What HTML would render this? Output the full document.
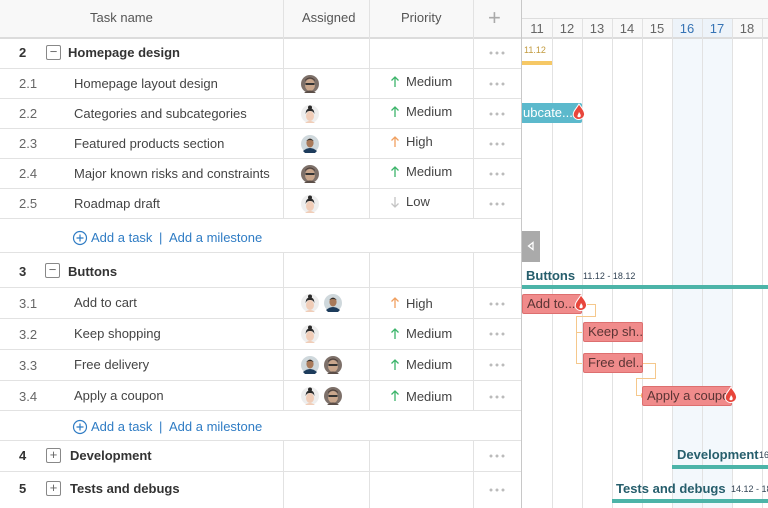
<!DOCTYPE html>
<html><head><meta charset="utf-8">
<style>
*{margin:0;padding:0;box-sizing:border-box}
body{width:768px;height:508px;overflow:hidden;background:#fff;font-family:"Liberation Sans",Arial,sans-serif;position:relative;color:#444}
.a{position:absolute;white-space:nowrap}
.hl{position:absolute;height:1px;background:#e2e2e2}
.vl{position:absolute;width:1px;background:#e2e2e2}
.t{font-size:13px;color:#444;line-height:16px}
.num{font-size:13px;color:#666;line-height:16px}
.b{font-weight:bold;color:#333}
.pr{font-size:13px;color:#444;line-height:16px}
.box{position:absolute;width:15px;height:15px;border:1px solid #888;border-radius:2px;color:#666;font-size:13px;line-height:12px;text-align:center}
.bar{position:absolute;height:20px;border-radius:2px;font-size:13px;line-height:18px;padding-left:4px;white-space:nowrap;overflow:hidden}
.red{background:#f08b8b;border:1px solid #dd6f6f;color:#5a3434}
.lnk{color:#2f7cc4;font-size:13px;line-height:16px}
.day{position:absolute;top:19px;height:18px;width:30px;text-align:center;font-size:13px;line-height:19px;color:#666}
</style></head><body>

<svg width="0" height="0" style="position:absolute">
<defs>
<g id="dots"><circle cx="2" cy="2" r="1.5" fill="#bbb"/><circle cx="8" cy="2" r="1.5" fill="#bbb"/><circle cx="14" cy="2" r="1.5" fill="#bbb"/></g>
<g id="up"><path d="M5 12V2M1.5 5.5L5 2L8.5 5.5" fill="none" stroke-width="1.3"/></g>
<g id="dn"><path d="M5 1V11M1.5 7.5L5 11L8.5 7.5" fill="none" stroke-width="1.3"/></g>
<g id="avA"><circle cx="9" cy="9" r="9" fill="#7d7069"/><ellipse cx="9" cy="10" rx="5" ry="6" fill="#c9a68c"/><path d="M4 6 Q9 1 14 6 L14 5 Q9 0 4 5Z" fill="#4a3a33"/><rect x="4.5" y="8" width="9" height="2" fill="#333"/><path d="M3 18 Q9 13 15 18Z" fill="#5b4e48"/></g>
<g id="avB"><circle cx="9" cy="9" r="9" fill="#eeeeee"/><ellipse cx="9" cy="11" rx="4" ry="5" fill="#f0cdb8"/><path d="M4.5 9 Q5 3 9 3.5 Q13 3 13.5 9 Q12 5.5 9 6 Q6 5.5 4.5 9Z" fill="#2a2a2a"/><circle cx="9" cy="2.5" r="2" fill="#2a2a2a"/><path d="M4 18 Q9 14 14 18Z" fill="#f0cdb8"/></g>
<g id="avC"><circle cx="9" cy="9" r="9" fill="#cfd8dc"/><ellipse cx="9" cy="8" rx="3.6" ry="4.5" fill="#a97a5a"/><path d="M5.2 6 Q9 1.5 12.8 6 Q9 4 5.2 6Z" fill="#2b2b2b"/><path d="M2 16 Q9 10 16 16 L14 18 L4 18Z" fill="#1d3c5c"/></g>
<g id="fire"><path d="M7 1 C10 5 13 8.5 12.5 12 A5.8 5.5 0 0 1 1.2 12.5 C0.8 8.5 4 6 7 1Z" fill="#e8463c" stroke="#fff" stroke-width="1"/><path d="M7 9 C8.5 11 9 12 8.6 13.5 A2 2 0 0 1 5.4 13.5 C5.4 12 6.4 11 7 9Z" fill="#fff"/></g>
</defs></svg>

<!-- header backgrounds -->
<div class="a" style="left:0;top:0;width:768px;height:38px;background:#f8f8f8"></div>
<div class="a" style="left:672px;top:19px;width:60px;height:18px;background:#edf3f9"></div>
<div class="a" style="left:672px;top:39px;width:60px;height:469px;background:#f3f8fc"></div>
<div class="hl" style="left:522px;top:18px;width:246px;background:#ddd"></div>
<div class="hl" style="left:0;top:37px;width:768px;height:2px;background:#dcdcdc"></div>

<!-- header text -->
<div class="a t" style="left:90px;top:10px;color:#555">Task name</div>
<div class="a t" style="left:302px;top:10px;color:#555">Assigned</div>
<div class="a t" style="left:401px;top:10px;color:#555">Priority</div>
<div class="a" style="left:488px;top:6px;font-size:22px;color:#aaa;line-height:24px;font-weight:300">+</div>

<!-- day header -->
<div class="day" style="left:522px">11</div>
<div class="day" style="left:552px">12</div>
<div class="day" style="left:582px">13</div>
<div class="day" style="left:612px">14</div>
<div class="day" style="left:642px">15</div>
<div class="day" style="left:672px;color:#3573b5">16</div>
<div class="day" style="left:702px;color:#3573b5">17</div>
<div class="day" style="left:732px">18</div>

<!-- timeline vertical grid -->
<div class="vl" style="left:552px;top:19px;height:489px"></div>
<div class="vl" style="left:582px;top:19px;height:489px"></div>
<div class="vl" style="left:612px;top:19px;height:489px"></div>
<div class="vl" style="left:642px;top:19px;height:489px"></div>
<div class="vl" style="left:672px;top:19px;height:489px"></div>
<div class="vl" style="left:702px;top:19px;height:489px"></div>
<div class="vl" style="left:732px;top:19px;height:489px"></div>
<div class="vl" style="left:762px;top:19px;height:489px"></div>

<!-- left grid horizontal lines -->
<div class="hl" style="left:0;top:68px;width:521px"></div>
<div class="hl" style="left:0;top:98px;width:521px"></div>
<div class="hl" style="left:0;top:128px;width:521px"></div>
<div class="hl" style="left:0;top:158px;width:521px"></div>
<div class="hl" style="left:0;top:188px;width:521px"></div>
<div class="hl" style="left:0;top:218px;width:521px"></div>
<div class="hl" style="left:0;top:252px;width:521px"></div>
<div class="hl" style="left:0;top:287px;width:521px"></div>
<div class="hl" style="left:0;top:318px;width:521px"></div>
<div class="hl" style="left:0;top:349px;width:521px"></div>
<div class="hl" style="left:0;top:380px;width:521px"></div>
<div class="hl" style="left:0;top:410px;width:521px"></div>
<div class="hl" style="left:0;top:440px;width:521px"></div>
<div class="hl" style="left:0;top:471px;width:521px"></div>

<!-- left grid vertical lines (gaps in add rows) -->
<div class="vl" style="left:283px;top:0;height:218px"></div>
<div class="vl" style="left:369px;top:0;height:218px"></div>
<div class="vl" style="left:473px;top:0;height:218px"></div>
<div class="vl" style="left:283px;top:252px;height:158px"></div>
<div class="vl" style="left:369px;top:252px;height:158px"></div>
<div class="vl" style="left:473px;top:252px;height:158px"></div>
<div class="vl" style="left:283px;top:440px;height:68px"></div>
<div class="vl" style="left:369px;top:440px;height:68px"></div>
<div class="vl" style="left:473px;top:440px;height:68px"></div>
<div class="vl" style="left:521px;top:0;height:508px;background:#c8c8c8"></div>

<!-- row: 2 Homepage design -->
<div class="a num b" style="left:19px;top:45px">2</div>
<div class="box" style="left:46px;top:45px">−</div>
<div class="a t b" style="left:68px;top:45px">Homepage design</div>
<svg class="a" style="left:489px;top:51px" width="16" height="4"><use href="#dots"/></svg>

<!-- 2.1 -->
<div class="a num" style="left:19px;top:76px">2.1</div>
<div class="a t" style="left:74px;top:76px">Homepage layout design</div>
<svg class="a" style="left:390px;top:75px" width="10" height="13" stroke="#3bb46a"><use href="#up"/></svg>
<div class="a pr" style="left:406px;top:74px">Medium</div>
<svg class="a" style="left:489px;top:82px" width="16" height="4"><use href="#dots"/></svg>
<!-- 2.2 -->
<div class="a num" style="left:19px;top:106px">2.2</div>
<div class="a t" style="left:74px;top:106px">Categories and subcategories</div>
<svg class="a" style="left:390px;top:105px" width="10" height="13" stroke="#3bb46a"><use href="#up"/></svg>
<div class="a pr" style="left:406px;top:104px">Medium</div>
<svg class="a" style="left:489px;top:112px" width="16" height="4"><use href="#dots"/></svg>
<!-- 2.3 -->
<div class="a num" style="left:19px;top:136px">2.3</div>
<div class="a t" style="left:74px;top:136px">Featured products section</div>
<svg class="a" style="left:390px;top:135px" width="10" height="13" stroke="#f0a060"><use href="#up"/></svg>
<div class="a pr" style="left:406px;top:134px">High</div>
<svg class="a" style="left:489px;top:142px" width="16" height="4"><use href="#dots"/></svg>
<!-- 2.4 -->
<div class="a num" style="left:19px;top:166px">2.4</div>
<div class="a t" style="left:74px;top:166px">Major known risks and constraints</div>
<svg class="a" style="left:390px;top:165px" width="10" height="13" stroke="#3bb46a"><use href="#up"/></svg>
<div class="a pr" style="left:406px;top:164px">Medium</div>
<svg class="a" style="left:489px;top:172px" width="16" height="4"><use href="#dots"/></svg>
<!-- 2.5 -->
<div class="a num" style="left:19px;top:196px">2.5</div>
<div class="a t" style="left:74px;top:196px">Roadmap draft</div>
<svg class="a" style="left:390px;top:196px" width="10" height="13" stroke="#c4c4c4"><use href="#dn"/></svg>
<div class="a pr" style="left:406px;top:194px">Low</div>
<svg class="a" style="left:489px;top:202px" width="16" height="4"><use href="#dots"/></svg>

<!-- add row 1 -->
<svg class="a" style="left:72px;top:230px" width="16" height="16"><circle cx="8" cy="8" r="6.5" fill="none" stroke="#2f7cc4" stroke-width="1.2"/><path d="M8 4.5v7M4.5 8h7" stroke="#2f7cc4" stroke-width="1.2"/></svg>
<div class="a lnk" style="left:91px;top:230px">Add a task</div>
<div class="a lnk" style="left:159px;top:230px">|</div>
<div class="a lnk" style="left:169px;top:230px">Add a milestone</div>

<!-- row: 3 Buttons -->
<div class="a num b" style="left:19px;top:264px">3</div>
<div class="box" style="left:45px;top:263px">−</div>
<div class="a t b" style="left:68px;top:264px">Buttons</div>

<!-- 3.1 -->
<div class="a num" style="left:19px;top:296px">3.1</div>
<div class="a t" style="left:74px;top:295px">Add to cart</div>
<svg class="a" style="left:390px;top:296px" width="10" height="13" stroke="#f0a060"><use href="#up"/></svg>
<div class="a pr" style="left:406px;top:296px">High</div>
<svg class="a" style="left:489px;top:302px" width="16" height="4"><use href="#dots"/></svg>
<!-- 3.2 -->
<div class="a num" style="left:19px;top:327px">3.2</div>
<div class="a t" style="left:74px;top:326px">Keep shopping</div>
<svg class="a" style="left:390px;top:327px" width="10" height="13" stroke="#3bb46a"><use href="#up"/></svg>
<div class="a pr" style="left:406px;top:326px">Medium</div>
<svg class="a" style="left:489px;top:332px" width="16" height="4"><use href="#dots"/></svg>
<!-- 3.3 -->
<div class="a num" style="left:19px;top:358px">3.3</div>
<div class="a t" style="left:74px;top:357px">Free delivery</div>
<svg class="a" style="left:390px;top:358px" width="10" height="13" stroke="#3bb46a"><use href="#up"/></svg>
<div class="a pr" style="left:406px;top:357px">Medium</div>
<svg class="a" style="left:489px;top:363px" width="16" height="4"><use href="#dots"/></svg>
<!-- 3.4 -->
<div class="a num" style="left:19px;top:389px">3.4</div>
<div class="a t" style="left:74px;top:388px">Apply a coupon</div>
<svg class="a" style="left:390px;top:389px" width="10" height="13" stroke="#3bb46a"><use href="#up"/></svg>
<div class="a pr" style="left:406px;top:389px">Medium</div>
<svg class="a" style="left:489px;top:395px" width="16" height="4"><use href="#dots"/></svg>

<!-- add row 2 -->
<svg class="a" style="left:72px;top:419px" width="16" height="16"><circle cx="8" cy="8" r="6.5" fill="none" stroke="#2f7cc4" stroke-width="1.2"/><path d="M8 4.5v7M4.5 8h7" stroke="#2f7cc4" stroke-width="1.2"/></svg>
<div class="a lnk" style="left:91px;top:419px">Add a task</div>
<div class="a lnk" style="left:159px;top:419px">|</div>
<div class="a lnk" style="left:169px;top:419px">Add a milestone</div>

<!-- 4 Development -->
<div class="a num b" style="left:19px;top:448px">4</div>
<div class="box" style="left:46px;top:448px">+</div>
<div class="a t b" style="left:70px;top:448px">Development</div>
<svg class="a" style="left:489px;top:454px" width="16" height="4"><use href="#dots"/></svg>
<!-- 5 Tests -->
<div class="a num b" style="left:19px;top:481px">5</div>
<div class="box" style="left:46px;top:481px">+</div>
<div class="a t b" style="left:70px;top:481px">Tests and debugs</div>
<svg class="a" style="left:489px;top:488px" width="16" height="4"><use href="#dots"/></svg>

<!-- avatars -->
<svg class="a" style="left:301px;top:75px" width="18" height="18"><use href="#avA"/></svg>
<svg class="a" style="left:301px;top:105px" width="18" height="18"><use href="#avB"/></svg>
<svg class="a" style="left:301px;top:135px" width="18" height="18"><use href="#avC"/></svg>
<svg class="a" style="left:301px;top:165px" width="18" height="18"><use href="#avA"/></svg>
<svg class="a" style="left:301px;top:195px" width="18" height="18"><use href="#avB"/></svg>
<svg class="a" style="left:301px;top:294px" width="18" height="18"><use href="#avB"/></svg>
<svg class="a" style="left:324px;top:294px" width="18" height="18"><use href="#avC"/></svg>
<svg class="a" style="left:301px;top:325px" width="18" height="18"><use href="#avB"/></svg>
<svg class="a" style="left:301px;top:356px" width="18" height="18"><use href="#avC"/></svg>
<svg class="a" style="left:324px;top:356px" width="18" height="18"><use href="#avA"/></svg>
<svg class="a" style="left:301px;top:387px" width="18" height="18"><use href="#avB"/></svg>
<svg class="a" style="left:324px;top:387px" width="18" height="18"><use href="#avA"/></svg>

<!-- timeline contents -->
<div class="a" style="left:524px;top:45px;font-size:9px;color:#c29a3e;line-height:11px">11.12</div>
<div class="a" style="left:522px;top:61px;width:30px;height:4px;background:#f6c865"></div>

<div class="bar" style="left:522px;top:103px;width:60px;background:#5cb9cc;color:#fff;padding-left:1px;line-height:20px;border-radius:0 2px 2px 0">ubcate...</div>

<!-- collapse tab -->
<div class="a" style="left:522px;top:231px;width:18px;height:31px;background:#aaaaaa"></div>
<svg class="a" style="left:526px;top:241px" width="10" height="10"><path d="M7 1.5 L2.5 5 L7 8.5Z" fill="none" stroke="#fff" stroke-width="1.3"/></svg>

<!-- Buttons group -->
<div class="a" style="left:526px;top:268px;font-size:13px;font-weight:bold;color:#265e6c;line-height:16px">Buttons</div>
<div class="a" style="left:583px;top:271px;font-size:9px;color:#345;line-height:11px">11.12 - 18.12</div>
<div class="a" style="left:522px;top:285px;width:246px;height:4px;background:#4cb4a8"></div>

<!-- connectors -->
<svg class="a" style="left:520px;top:290px" width="248" height="120">
<g fill="none" stroke="#f5c88c" stroke-width="1">
<path d="M62 14.5 H75.5 V26.5 H56.5 V73.5 H62"/>
<path d="M56.5 42.5 H62"/>
<path d="M123 73.5 H135.5 V88.5 H116.5 V105.5 H121"/>
</g>
<g fill="#f5b070">
<path d="M63 40 L66 42.5 L63 45Z"/>
<path d="M63 71 L66 73.5 L63 76Z"/>
<path d="M121 103 L124 105.5 L121 108Z"/>
</g>
</svg>

<div class="bar red" style="left:522px;top:294px;width:60px">Add to...</div>
<div class="bar red" style="left:583px;top:322px;width:60px">Keep sh...</div>
<div class="bar red" style="left:583px;top:353px;width:60px">Free del...</div>
<div class="bar red" style="left:642px;top:386px;width:90px">Apply a coupo</div>

<!-- fire icons -->
<svg class="a" style="left:572px;top:103px" width="14" height="19"><use href="#fire"/></svg>
<svg class="a" style="left:574px;top:294px" width="14" height="19"><use href="#fire"/></svg>
<svg class="a" style="left:724px;top:386px" width="14" height="19"><use href="#fire"/></svg>

<!-- Development -->
<div class="a" style="left:677px;top:447px;font-size:13px;font-weight:bold;color:#265e6c;line-height:16px">Development</div>
<div class="a" style="left:759px;top:450px;font-size:9px;color:#345;line-height:11px">16</div>
<div class="a" style="left:672px;top:465px;width:96px;height:4px;background:#4cb4a8"></div>

<!-- Tests and debugs -->
<div class="a" style="left:616px;top:481px;font-size:13px;font-weight:bold;color:#265e6c;line-height:16px">Tests and debugs</div>
<div class="a" style="left:731px;top:484px;font-size:9px;color:#345;line-height:11px">14.12 - 18.12</div>
<div class="a" style="left:612px;top:499px;width:156px;height:4px;background:#4cb4a8"></div>

</body></html>
